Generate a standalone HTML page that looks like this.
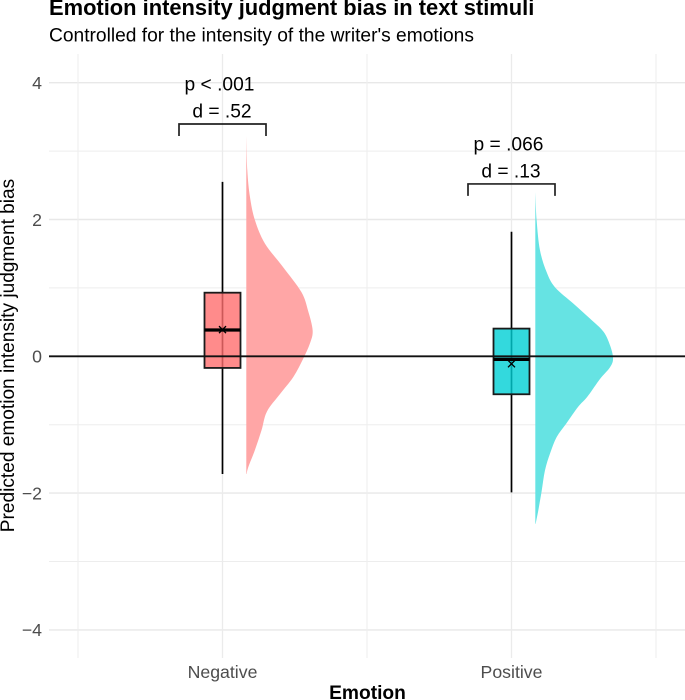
<!DOCTYPE html>
<html>
<head>
<meta charset="utf-8">
<style>
html,body{margin:0;padding:0;background:#fff;width:685px;height:700px;overflow:hidden}
svg{display:block;font-family:"Liberation Sans",sans-serif}
</style>
</head>
<body>
<svg id="chart" width="685" height="700" viewBox="0 0 685 700" xmlns="http://www.w3.org/2000/svg">
<text x="49" y="15" font-size="21.9" font-weight="bold" fill="#000">Emotion intensity judgment bias in text stimuli</text>
<text x="49" y="41.5" font-size="19.2" fill="#000">Controlled for the intensity of the writer's emotions</text>
<g id="grid"></g>
<g id="marks"></g>
<g id="axes"></g>
<text transform="translate(14,355.5) rotate(-90)" text-anchor="middle" font-size="19.1" fill="#000">Predicted emotion intensity judgment bias</text>
<text x="367.5" y="699" text-anchor="middle" font-size="19.2" font-weight="bold" fill="#000">Emotion</text>
</svg>
<script>
const categories = ['Negative', 'Positive'];
const yTicks = [4, 2, 0, -2, -4];
const yMinorTicks = [3, 1, -1, -3];
const negGrid = [3.22, 2.72, 2.33, 1.99, 1.65, 1.31, 0.94, 0.67, 0.38, 0.19, -0.03, -0.30, -0.55, -0.81, -1.08, -1.37, -1.62, -1.72];
const negDensity = [0, 0.015, 0.055, 0.13, 0.28, 0.55, 0.83, 0.93, 1, 0.96, 0.86, 0.71, 0.51, 0.31, 0.23, 0.13, 0.03, 0.005];
const posGrid = [2.40, 1.99, 1.55, 1.23, 1.01, 0.77, 0.55, 0.36, 0.16, -0.03, -0.16, -0.33, -0.59, -0.74, -0.98, -1.18, -1.42, -1.67, -1.97, -2.25, -2.45];
const posDensity = [0, 0.017, 0.06, 0.146, 0.253, 0.49, 0.704, 0.876, 0.961, 1, 0.961, 0.833, 0.67, 0.55, 0.40, 0.275, 0.19, 0.124, 0.082, 0.039, 0.004];
const negPeak = 0.97;
const posPeak = 1.137;
const negBox = {whiskerLow: -1.72, q1: -0.17, median: 0.385, q3: 0.93, whiskerHigh: 2.55, mean: 0.39};
const posBox = {whiskerLow: -1.99, q1: -0.555, median: -0.045, q3: 0.405, whiskerHigh: 1.82, mean: -0.11};
const negBracket = 3.396;
const posBracket = 2.52;
const negLabels = ['p < .001', 'd = .52'];
const posLabels = ['p = .066', 'd = .13'];

const NS = 'http://www.w3.org/2000/svg';
const panel = {left: 49, right: 685, top: 54, bottom: 658};
function yScale(v) { return 356.3 - v * 68.4; }
function xScale(i) { return 222.5 + i * 289; }
function widthScale(d) { return d * 68.4; }
function xMinor(i) { return 78 + i * 289; }
function make(tag, attrs, parent, text) {
  const el = document.createElementNS(NS, tag);
  for (const k in attrs) el.setAttribute(k, attrs[k]);
  if (text !== undefined) el.textContent = text;
  parent.appendChild(el);
  return el;
}
function smoothPath(p) {
  let d = 'M' + p[0][0] + ' ' + p[0][1];
  for (let i = 0; i < p.length - 1; i++) {
    const a = p[Math.max(0, i - 1)], b = p[i], c = p[i + 1], e = p[Math.min(p.length - 1, i + 2)];
    d += 'C' + (b[0] + (c[0] - a[0]) / 6) + ' ' + (b[1] + (c[1] - a[1]) / 6) + ' ' +
      (c[0] - (e[0] - b[0]) / 6) + ' ' + (c[1] - (e[1] - b[1]) / 6) + ' ' + c[0] + ' ' + c[1];
  }
  return d;
}
const grid = document.getElementById('grid');
const marks = document.getElementById('marks');
const axes = document.getElementById('axes');

yMinorTicks.forEach(function (t) {
  const el = make('line', {x1: panel.left, x2: panel.right, y1: yScale(t), y2: yScale(t), stroke: '#ededed', 'stroke-width': 1}, grid);
  
  
});
yTicks.forEach(function (t) {
  const el = make('line', {x1: panel.left, x2: panel.right, y1: yScale(t), y2: yScale(t), stroke: '#e8e8e8', 'stroke-width': 1.4}, grid);
  
  
  const lab = make('text', {x: 42, y: yScale(t) + 6.3, 'text-anchor': 'end', 'font-size': 17.7, fill: '#4d4d4d'}, axes, String(t).replace('-', '\u2212'));
  
  
});
[0, 1, 2].forEach(function (i) {
  const el = make('line', {x1: xMinor(i), x2: xMinor(i), y1: panel.top, y2: panel.bottom, stroke: '#eeeeee', 'stroke-width': 1.1}, grid);
  
  
});
categories.forEach(function (c, i) {
  const el = make('line', {x1: xScale(i), x2: xScale(i), y1: panel.top, y2: panel.bottom, stroke: '#ebebeb', 'stroke-width': 1.3}, grid);
  
  
  const lab = make('text', {x: xScale(i), y: 678, 'text-anchor': 'middle', 'font-size': 17.7, fill: '#4d4d4d'}, axes, c);
  
  
});

function drawGroup(i, gridVals, dens, peak, box, bracketV, labels, fillCloud, fillBox) {
  const cx = xScale(i);
  const base = cx + 23.8;
  const curve = gridVals.map(function (v, j) {
    return [base + widthScale(dens[j] * peak), yScale(v)];
  });
  const d = smoothPath(curve) + 'L' + base + ' ' + yScale(gridVals[gridVals.length - 1]) + 'L' + base + ' ' + yScale(gridVals[0]) + 'Z';
  const cloud = make('path', {d: d, fill: fillCloud, stroke: 'none'}, marks);
  
  

  const wh = make('line', {x1: cx, x2: cx, y1: yScale(box.whiskerHigh), y2: yScale(box.whiskerLow), stroke: '#000', 'stroke-width': 1.7}, marks);
  
  

  const r = make('rect', {x: cx - 18, width: 36, y: yScale(box.q3), height: yScale(box.q1) - yScale(box.q3), fill: fillBox, stroke: '#1a1a1a', 'stroke-width': 1.8}, marks);
  
  

  const med = make('line', {x1: cx - 18, x2: cx + 18, y1: yScale(box.median), y2: yScale(box.median), stroke: '#000', 'stroke-width': 3.2}, marks);
  
  

  const my = yScale(box.mean);
  const mean = make('path', {d: 'M' + (cx - 3.5) + ' ' + (my - 3.5) + 'L' + (cx + 3.5) + ' ' + (my + 3.5) + 'M' + (cx - 3.5) + ' ' + (my + 3.5) + 'L' + (cx + 3.5) + ' ' + (my - 3.5), stroke: '#000', 'stroke-width': 1.3, fill: 'none'}, marks);
  
  

  const by = yScale(bracketV);
  const br = make('path', {d: 'M' + (cx - 43.5) + ' ' + (by + 12) + 'V' + by + 'H' + (cx + 43.5) + 'V' + (by + 12), stroke: '#222', 'stroke-width': 1.7, fill: 'none'}, marks);
  
  

  const t1 = make('text', {x: cx - 3, y: by - 33.5, 'text-anchor': 'middle', 'font-size': 19.2, fill: '#000'}, marks, labels[0]);
  
  
  const t2 = make('text', {x: cx - 0.5, y: by - 6.3, 'text-anchor': 'middle', 'font-size': 19.2, fill: '#000'}, marks, labels[1]);
  
  
}
drawGroup(0, negGrid, negDensity, negPeak, negBox, negBracket, negLabels, '#ffa6a6', 'rgba(255,110,110,0.8)');
drawGroup(1, posGrid, posDensity, posPeak, posBox, posBracket, posLabels, '#66e3e3', 'rgba(0,208,212,0.8)');

const zero = make('line', {x1: panel.left, x2: panel.right, y1: yScale(0), y2: yScale(0), stroke: '#111', 'stroke-width': 1.9}, marks);


</script>
</body>
</html>
